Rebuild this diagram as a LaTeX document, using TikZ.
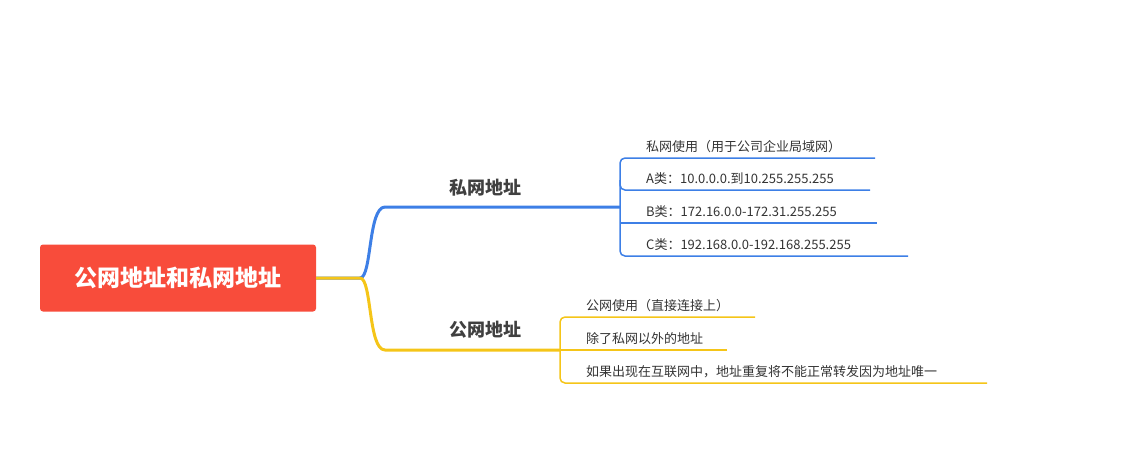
\documentclass[tikz,border=0pt]{standalone}
\usepackage{fontspec}
\setmainfont{Noto Sans CJK SC}
\begin{document}
\begin{tikzpicture}[x=1pt,y=-1pt,
  item/.style={anchor=south west,inner sep=1pt,font=\fontsize{13}{15}\selectfont,text=black!80},
  lbl/.style={font=\fontsize{18}{20}\selectfont\bfseries,text=black!75}]
\useasboundingbox (0,0) rectangle (1146,475);
\definecolor{rootc}{HTML}{F84C3B}
\definecolor{bc}{HTML}{3D7FE6}
\definecolor{yc}{HTML}{F5C518}
\node[fill=rootc,rounded corners=3pt,minimum width=276pt,minimum height=67pt,text=white,
  font=\fontsize{23}{26}\selectfont\bfseries] (root) at (178,278) {公网地址和私网地址};
\coordinate (b0) at (620,207);
\coordinate (y0) at (560,350);
\draw[bc,line width=3pt] (root.east) -- (360,278) .. controls (372,278) and (368,207) .. (385,207) -- (b0);
\draw[yc,line width=3pt] (root.east) -- (360,278) .. controls (372,278) and (368,350) .. (385,350) -- (y0);
\node[lbl] (pl) at (485,188) {私网地址};
\node[lbl] (gl) at (485,330) {公网地址};
% blue items
\node[item] (p1) at (645,154) {私网使用（用于公司企业局域网）};
\node[item] (p2) at (645,186) {A类：10.0.0.0.到10.255.255.255};
\node[item] (p3) at (645,219) {B类：172.16.0.0-172.31.255.255};
\node[item] (p4) at (645,252) {C类：192.168.0.0-192.168.255.255};
\draw[bc,line width=1.5pt,rounded corners=5pt] (875,158) -- (620,158) -- (620,256) -- (908,256);
\draw[bc,line width=1.5pt,rounded corners=5pt] (620,180) -- (620,190) -- (870,190);
\draw[bc,line width=1.5pt] (620,223) -- (877,223);
% yellow items
\node[item] (g1) at (585,313) {公网使用（直接连接上）};
\node[item] (g2) at (585,346) {除了私网以外的地址};
\node[item] (g3) at (585,379) {如果出现在互联网中，地址重复将不能正常转发因为地址唯一};
\draw[yc,line width=1.5pt,rounded corners=5pt] (755,317) -- (560,317) -- (560,383) -- (987,383);
\draw[yc,line width=1.5pt] (560,350) -- (727,350);
\end{tikzpicture}
\end{document}
